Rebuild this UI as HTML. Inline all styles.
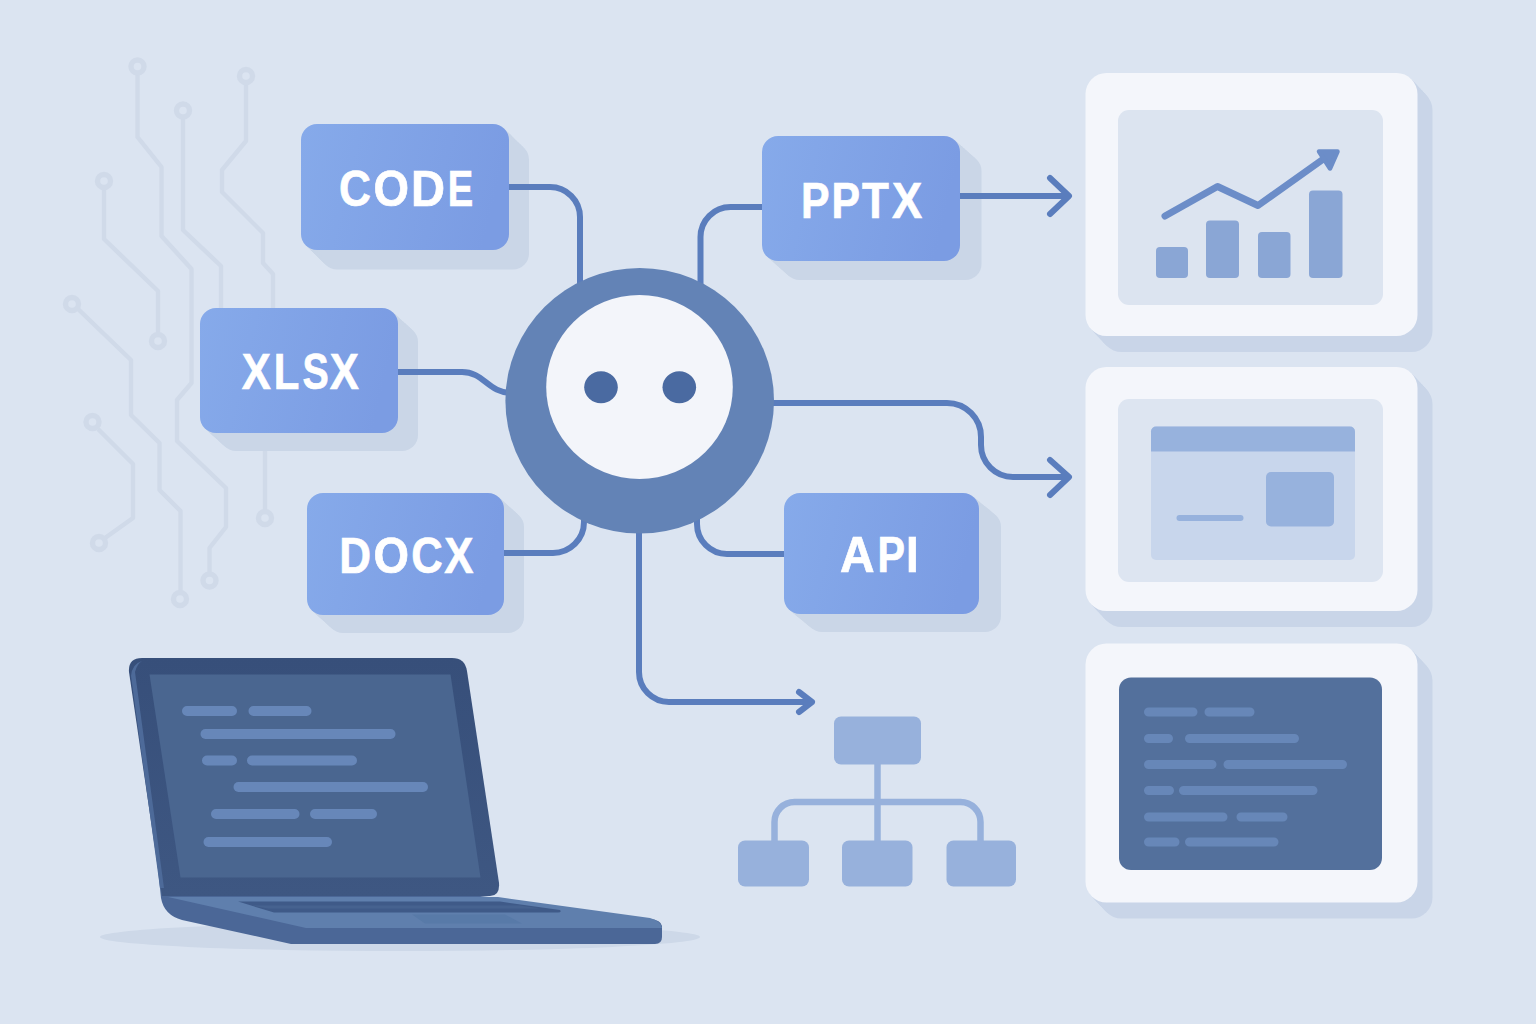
<!DOCTYPE html>
<html><head><meta charset="utf-8">
<style>
html,body{margin:0;padding:0;width:1536px;height:1024px;overflow:hidden;background:#dbe4f1;}
svg{display:block;}
text{font-family:"Liberation Sans",sans-serif;font-weight:bold;fill:#ffffff;}
</style></head>
<body>
<svg width="1536" height="1024" viewBox="0 0 1536 1024">
<defs>
<linearGradient id="bx" x1="0" y1="0" x2="1" y2="0.15">
<stop offset="0" stop-color="#86aaea"/><stop offset="1" stop-color="#7b9ce3"/>
</linearGradient>
<linearGradient id="lid" x1="0" y1="0" x2="0" y2="1">
<stop offset="0" stop-color="#374f7a"/><stop offset="1" stop-color="#3e5782"/>
</linearGradient>
</defs>
<rect width="1536" height="1024" fill="#dbe4f1"/>
<g fill="none" stroke="#d0dae9" stroke-width="4.4" stroke-linejoin="round">
<path d="M137.5,74 V137 L161.5,167 V236 L191.5,269 V383 L177,400 V441 L226,488 V527 L209.5,548 V573"/>
<path d="M183,118 V230 L221,266 V320"/>
<path d="M246,83 V141 L222,170 V192 L263,233 V263 L273,274 V320"/>
<path d="M104,188 V239 L158,291 V333"/>
<path d="M78,309 L131,360 V415 L159.5,443 V490 L180.5,511 V591"/>
<path d="M98,429 L133,464 V518 L105,538"/>
<path d="M265,440 V510"/>
</g>
<g fill="none" stroke="#d0dae9" stroke-width="5.4">
<circle cx="137.5" cy="66.5" r="6.5"/>
<circle cx="183" cy="110.5" r="6.5"/>
<circle cx="246" cy="76" r="6.5"/>
<circle cx="104" cy="181" r="6.5"/>
<circle cx="158" cy="341" r="6.5"/>
<circle cx="72" cy="304" r="6.5"/>
<circle cx="180" cy="599" r="6.5"/>
<circle cx="92.5" cy="422" r="6.5"/>
<circle cx="99" cy="543" r="6.5"/>
<circle cx="265" cy="518" r="6.5"/>
<circle cx="209.5" cy="580.5" r="6.5"/>
</g>
<g fill="#cad6e7"><rect x="303.0" y="126.0" width="208" height="126" rx="16"/><rect x="305.0" y="127.9" width="208" height="126" rx="16"/><rect x="307.0" y="129.8" width="208" height="126" rx="16"/><rect x="309.0" y="131.8" width="208" height="126" rx="16"/><rect x="311.0" y="133.8" width="208" height="126" rx="16"/><rect x="313.0" y="135.7" width="208" height="126" rx="16"/><rect x="315.0" y="137.7" width="208" height="126" rx="16"/><rect x="317.0" y="139.6" width="208" height="126" rx="16"/><rect x="319.0" y="141.6" width="208" height="126" rx="16"/><rect x="321.0" y="143.5" width="208" height="126" rx="16"/></g><g fill="#cad6e7"><rect x="202.0" y="309.8" width="198" height="125" rx="16"/><rect x="204.0" y="311.6" width="198" height="125" rx="16"/><rect x="206.0" y="313.4" width="198" height="125" rx="16"/><rect x="208.0" y="315.2" width="198" height="125" rx="16"/><rect x="210.0" y="317.0" width="198" height="125" rx="16"/><rect x="212.0" y="318.8" width="198" height="125" rx="16"/><rect x="214.0" y="320.6" width="198" height="125" rx="16"/><rect x="216.0" y="322.4" width="198" height="125" rx="16"/><rect x="218.0" y="324.2" width="198" height="125" rx="16"/><rect x="220.0" y="326.0" width="198" height="125" rx="16"/></g><g fill="#cad6e7"><rect x="309.0" y="494.8" width="197" height="122" rx="16"/><rect x="311.0" y="496.6" width="197" height="122" rx="16"/><rect x="313.0" y="498.4" width="197" height="122" rx="16"/><rect x="315.0" y="500.2" width="197" height="122" rx="16"/><rect x="317.0" y="502.0" width="197" height="122" rx="16"/><rect x="319.0" y="503.8" width="197" height="122" rx="16"/><rect x="321.0" y="505.6" width="197" height="122" rx="16"/><rect x="323.0" y="507.4" width="197" height="122" rx="16"/><rect x="325.0" y="509.2" width="197" height="122" rx="16"/><rect x="327.0" y="511.0" width="197" height="122" rx="16"/></g><g fill="#cad6e7"><rect x="764.1" y="137.9" width="198" height="125" rx="16"/><rect x="766.3" y="139.8" width="198" height="125" rx="16"/><rect x="768.5" y="141.7" width="198" height="125" rx="16"/><rect x="770.6" y="143.6" width="198" height="125" rx="16"/><rect x="772.8" y="145.5" width="198" height="125" rx="16"/><rect x="774.9" y="147.4" width="198" height="125" rx="16"/><rect x="777.0" y="149.3" width="198" height="125" rx="16"/><rect x="779.2" y="151.2" width="198" height="125" rx="16"/><rect x="781.4" y="153.1" width="198" height="125" rx="16"/><rect x="783.5" y="155.0" width="198" height="125" rx="16"/></g><g fill="#cad6e7"><rect x="786.2" y="494.8" width="195" height="121" rx="16"/><rect x="788.4" y="496.6" width="195" height="121" rx="16"/><rect x="790.6" y="498.4" width="195" height="121" rx="16"/><rect x="792.8" y="500.2" width="195" height="121" rx="16"/><rect x="795.0" y="502.0" width="195" height="121" rx="16"/><rect x="797.2" y="503.8" width="195" height="121" rx="16"/><rect x="799.4" y="505.6" width="195" height="121" rx="16"/><rect x="801.6" y="507.4" width="195" height="121" rx="16"/><rect x="803.8" y="509.2" width="195" height="121" rx="16"/><rect x="806.0" y="511.0" width="195" height="121" rx="16"/></g><g fill="none" stroke="#5a7dbd" stroke-width="6" stroke-linecap="round" stroke-linejoin="round">
<path d="M505,187 H550 A30,30 0 0 1 580,217 V290"/>
<path d="M766,207 H730.5 A30,30 0 0 0 700.5,237 V290"/>
<path d="M956,196 H1068 M1050,178 L1069,196 L1050,214"/>
<path d="M394,372 H462 C484,372 488,393 512,393"/>
<path d="M770,403 H947 A34,34 0 0 1 981,437 V445 A32,32 0 0 0 1013,477 H1068 M1050,460 L1069,477 L1050,495"/>
<path d="M500,553 H553 A31,31 0 0 0 584,522 V510"/>
<path d="M788,554 H727 A30,30 0 0 1 697,524 V510"/>
<path d="M639,520 V672 A30,30 0 0 0 669,702 H812 M799,692 L812,702 L799,712"/>
</g>
<rect x="301" y="124" width="208" height="126" rx="16" fill="url(#bx)"/><rect x="200" y="308" width="198" height="125" rx="16" fill="url(#bx)"/><rect x="307" y="493" width="197" height="122" rx="16" fill="url(#bx)"/><rect x="762" y="136" width="198" height="125" rx="16" fill="url(#bx)"/><rect x="784" y="493" width="195" height="121" rx="16" fill="url(#bx)"/><g fill="#fff" stroke="#fff" stroke-width="0.7" font-size="50.8"><text transform="translate(339.04,205.9) scale(0.8701,1)">C</text><text transform="translate(373.48,205.9) scale(0.8981,1)">O</text><text transform="translate(410.90,205.9) scale(0.9276,1)">D</text><text transform="translate(447.80,205.9) scale(0.7509,1)">E</text><text transform="translate(241.77,389.0) scale(0.8578,1)">X</text><text transform="translate(273.65,389.0) scale(0.8247,1)">L</text><text transform="translate(302.42,389.0) scale(0.7754,1)">S</text><text transform="translate(329.77,389.0) scale(0.8578,1)">X</text><text transform="translate(339.30,573.4) scale(0.8666,1)">D</text><text transform="translate(373.48,573.4) scale(0.8981,1)">O</text><text transform="translate(411.26,573.4) scale(0.8581,1)">C</text><text transform="translate(444.37,573.4) scale(0.8609,1)">X</text><text transform="translate(801.09,217.8) scale(0.8418,1)">P</text><text transform="translate(831.49,217.8) scale(0.8418,1)">P</text><text transform="translate(861.96,217.8) scale(0.8658,1)">T</text><text transform="translate(891.95,217.8) scale(0.8912,1)">X</text><text transform="translate(840.06,571.6) scale(0.9419,1)">A</text><text transform="translate(877.40,571.6) scale(0.8105,1)">P</text><text transform="translate(906.08,571.6) scale(0.9020,1)">I</text></g>
<ellipse cx="639.7" cy="400.7" rx="134.3" ry="132.8" fill="#6383b6"/>
<ellipse cx="639.5" cy="387" rx="93.3" ry="92" fill="#f3f5fa"/>
<ellipse cx="601" cy="387.3" rx="16.8" ry="16" fill="#4a6aa1"/>
<ellipse cx="679.3" cy="387.3" rx="16.8" ry="16" fill="#4a6aa1"/>
<g fill="#c9d5e8"><rect x="1087.0" y="74.6" width="332" height="263" rx="21"/><rect x="1088.5" y="76.2" width="332" height="263" rx="21"/><rect x="1090.0" y="77.8" width="332" height="263" rx="21"/><rect x="1091.5" y="79.4" width="332" height="263" rx="21"/><rect x="1093.0" y="81.0" width="332" height="263" rx="21"/><rect x="1094.5" y="82.6" width="332" height="263" rx="21"/><rect x="1096.0" y="84.2" width="332" height="263" rx="21"/><rect x="1097.5" y="85.8" width="332" height="263" rx="21"/><rect x="1099.0" y="87.4" width="332" height="263" rx="21"/><rect x="1100.5" y="89.0" width="332" height="263" rx="21"/></g><g fill="#c9d5e8"><rect x="1087.0" y="368.6" width="332" height="244" rx="21"/><rect x="1088.5" y="370.2" width="332" height="244" rx="21"/><rect x="1090.0" y="371.8" width="332" height="244" rx="21"/><rect x="1091.5" y="373.4" width="332" height="244" rx="21"/><rect x="1093.0" y="375.0" width="332" height="244" rx="21"/><rect x="1094.5" y="376.6" width="332" height="244" rx="21"/><rect x="1096.0" y="378.2" width="332" height="244" rx="21"/><rect x="1097.5" y="379.8" width="332" height="244" rx="21"/><rect x="1099.0" y="381.4" width="332" height="244" rx="21"/><rect x="1100.5" y="383.0" width="332" height="244" rx="21"/></g><g fill="#c9d5e8"><rect x="1087.0" y="645.1" width="332" height="259" rx="21"/><rect x="1088.5" y="646.7" width="332" height="259" rx="21"/><rect x="1090.0" y="648.3" width="332" height="259" rx="21"/><rect x="1091.5" y="649.9" width="332" height="259" rx="21"/><rect x="1093.0" y="651.5" width="332" height="259" rx="21"/><rect x="1094.5" y="653.1" width="332" height="259" rx="21"/><rect x="1096.0" y="654.7" width="332" height="259" rx="21"/><rect x="1097.5" y="656.3" width="332" height="259" rx="21"/><rect x="1099.0" y="657.9" width="332" height="259" rx="21"/><rect x="1100.5" y="659.5" width="332" height="259" rx="21"/></g><rect x="1085.5" y="73" width="332" height="263" rx="21" fill="#f4f6fb"/><rect x="1085.5" y="367" width="332" height="244" rx="21" fill="#f4f6fb"/><rect x="1085.5" y="643.5" width="332" height="259" rx="21" fill="#f4f6fb"/>
<rect x="1118" y="110" width="265" height="195" rx="11" fill="#dce4f0"/>
<g fill="#8aa6d5">
<rect x="1156" y="247" width="32" height="31" rx="4"/>
<rect x="1206" y="220.5" width="33" height="57.5" rx="4"/>
<rect x="1258" y="232" width="32.5" height="46" rx="4"/>
<rect x="1309" y="190.5" width="33.5" height="87.5" rx="4"/>
</g>
<path d="M1165,216 L1217.5,186.5 L1258,205.5 L1322,160" fill="none" stroke="#6c8dc8" stroke-width="7" stroke-linecap="round" stroke-linejoin="round"/>
<path d="M1319,151.5 L1337.5,151.5 L1330,168.5 Z" fill="#6c8dc8" stroke="#6c8dc8" stroke-width="4.5" stroke-linejoin="round"/>
<rect x="1118" y="399" width="265" height="183" rx="11" fill="#dde5f1"/>
<rect x="1151" y="426.5" width="204" height="133.5" rx="5" fill="#c8d6ec"/>
<path d="M1151,451.5 V431.5 A5,5 0 0 1 1156,426.5 H1350 A5,5 0 0 1 1355,431.5 V451.5 Z" fill="#97b2dd"/>
<rect x="1266" y="472" width="68" height="54.5" rx="5" fill="#97b2dd"/>
<rect x="1176.5" y="515" width="67" height="6" rx="3" fill="#97b2dd"/>
<rect x="1119" y="677.5" width="263" height="192.5" rx="12" fill="#53709c"/>
<g stroke="#6787b8" stroke-width="9" stroke-linecap="round" fill="none">
<path d="M1148.5,712 H1193 M1209,712 H1250"/>
<path d="M1148.5,738.5 H1168.5 M1189.5,738.5 H1294.5"/>
<path d="M1148.5,764.5 H1212 M1228,764.5 H1342.5"/>
<path d="M1148.5,790.5 H1169.5 M1183.5,790.5 H1313"/>
<path d="M1148.5,817 H1223 M1241,817 H1283"/>
<path d="M1148.5,842 H1175 M1189.5,842 H1274"/>
</g>
<g fill="#97b1dc">
<rect x="834" y="716.5" width="87" height="48" rx="7"/>
<rect x="738" y="840.5" width="71" height="46" rx="7"/>
<rect x="842" y="840.5" width="70.5" height="46" rx="7"/>
<rect x="946.5" y="840.5" width="69.5" height="46" rx="7"/>
</g>
<path d="M877.5,764 V842 M774.5,842 V822 A20,20 0 0 1 794.5,802 H960.5 A20,20 0 0 1 980.5,822 V842" fill="none" stroke="#97b1dc" stroke-width="6.5"/>
<ellipse cx="400" cy="937" rx="300" ry="14" fill="#cdd8e8"/>
<path d="M157,860 L161,898 Q164,915 182,920 L291,944 H655 Q662,944 662,937 V926 Q661,920 650,919 L498,898 Z" fill="#4b6797"/>
<path d="M168,897 H498 L650,918 Q661,921 662,928 H306 Z" fill="#5f7fad"/>
<path d="M142,658 H452 Q465,658 467,671 L499,883 Q500,896 490,896 H162 L129,672 Q128,658 142,658 Z" fill="url(#lid)"/>
<path d="M131,676 L160,888 L164,888 L135,672 Q137,664 142,661 Q132,664 131,676 Z" fill="#4d6a99"/>
<path d="M149.5,674.5 H450.5 L480.5,877.5 H180.5 Z" fill="#4a6690"/>
<path d="M238,901.5 H500 L560,910 Q562,912.5 558,912.5 H274 Z" fill="#3f5a88"/>
<path d="M252,905.5 H520 L540,908.5 H268 Z" fill="#46628f"/>
<path d="M412,914.5 H505 L522,923.5 H425 Z" fill="#587aa8"/>
<g stroke="#6787b9" stroke-width="10" stroke-linecap="round" fill="none">
<path d="M187,711 H232 M253.5,711 H306.5"/>
<path d="M205.5,734 H390.5"/>
<path d="M207,760.5 H232 M252,760.5 H352"/>
<path d="M238.5,787 H423"/>
<path d="M216,814 H294.5 M315,814 H372"/>
<path d="M208.5,842 H327"/>
</g>
</svg>
</body></html>
